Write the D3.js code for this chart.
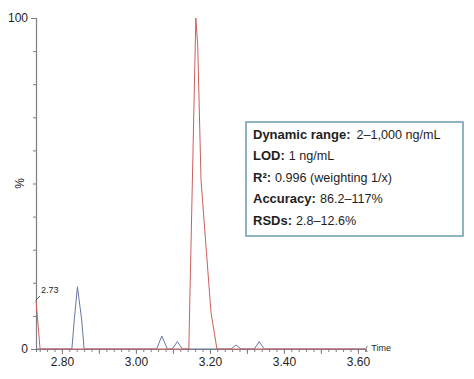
<!DOCTYPE html>
<html>
<head>
<meta charset="utf-8">
<script src="https://cdn.jsdelivr.net/npm/d3@7"></script>
<style>
  body { margin: 0; background: #fff; }
  svg { display: block; font-family: "Liberation Sans", Arial, sans-serif; }
</style>
</head>
<body>
<svg class="main" width="474" height="379"></svg>
<script>
// chromatogram traces (time in min, intensity in %)
var redTime = [2.730, 2.741, 3.143, 3.162, 3.167, 3.176, 3.203, 3.219, 3.620];
var redPct  = [14.8,  0,     0,     100,   92,    51,    11,    0,     0];

var blueTime = [2.730, 2.827, 2.8335, 2.842, 2.8535, 2.860, 3.056, 3.070, 3.085,
                3.098, 3.112, 3.126, 3.257, 3.271, 3.284, 3.320, 3.333, 3.347, 3.620];
var bluePct  = [0,     0,     8.8,    18.8,  8.8,    0,     0,     3.9,   0,
                0,     2.2,   0,     0,     1.2,   0,     0,     2.2,   0,     0];

var xLabels = [2.80, 3.00, 3.20, 3.40, 3.60];
var yLabels = [0, 100];
var peakLabel = '2.73';

var infoLabels = ['Dynamic range:', 'LOD:', 'R\u00B2:', 'Accuracy:', 'RSDs:'];
var infoValues = ['2\u20131,000 ng/mL', '1 ng/mL', '0.996 (weighting 1/x)', '86.2\u2013117%', '2.8\u201312.6%'];

var redStroke = '#c9605c',
    blueStroke = '#6877a3',
    axisStroke = '#808080',
    textFill = '#1e1e1e',
    boxStroke = '#6b9bab';

var svg = d3.select('.main');

var x = d3.scaleLinear()
    .domain([2.73, 3.62])
    .range([36, 365.3]);

var y = d3.scaleLinear()
    .domain([0, 100])
    .range([349, 18]);

// y axis: minor ticks every 10 %, labels only at 0 and 100
var yMinor = d3.axisLeft(y)
    .tickValues(d3.range(0, 101, 10))
    .tickSize(3)
    .tickFormat('');

var gyMinor = svg.append('g')
    .attr('transform', 'translate(' + x.range()[0] + ',0)')
    .call(yMinor);

var yMajor = d3.axisLeft(y)
    .tickValues(yLabels)
    .tickSize(5)
    .tickPadding(3)
    .tickFormat(d3.format('d'));

var gyMajor = svg.append('g')
    .attr('transform', 'translate(' + x.range()[0] + ',0)')
    .call(yMajor);
gyMajor.select('.domain').remove();

// x axis: minor every 0.02, medium every 0.1, labels every 0.2
var xMinor = d3.axisBottom(x)
    .tickValues(d3.range(2.74, 3.621, 0.02))
    .tickSize(3)
    .tickFormat('');

var gxMinor = svg.append('g')
    .attr('transform', 'translate(0,' + y(0) + ')')
    .call(xMinor);

var xMid = d3.axisBottom(x)
    .tickValues(d3.range(2.8, 3.61, 0.1))
    .tickSize(5)
    .tickFormat('');

var gxMid = svg.append('g')
    .attr('transform', 'translate(0,' + y(0) + ')')
    .call(xMid);
gxMid.select('.domain').remove();

var xMajor = d3.axisBottom(x)
    .tickValues(xLabels)
    .tickSize(0)
    .tickPadding(8)
    .tickFormat(d3.format('.2f'));

var gxMajor = svg.append('g')
    .attr('transform', 'translate(0,' + y(0) + ')')
    .call(xMajor);
gxMajor.select('.domain').remove();

svg.selectAll('.domain').attr('stroke', axisStroke).attr('stroke-width', 1.2);
svg.selectAll('.tick line').attr('stroke', axisStroke);
svg.selectAll('.tick text')
    .attr('fill', textFill)
    .style('font-size', '12px')
    .style('font-family', '"Liberation Sans", Arial, sans-serif');

// end bracket on time axis
var xEnd = x.range()[1];
svg.append('path')
    .attr('d', 'M' + (xEnd + 2) + ',' + (y(0) - 3) + ' Q' + (xEnd - 1) + ',' + y(0) + ' ' + (xEnd + 2) + ',' + (y(0) + 3))
    .attr('fill', 'none')
    .attr('stroke', axisStroke);

svg.append('text')
    .attr('x', xEnd + 6)
    .attr('y', y(0) + 2)
    .attr('fill', textFill)
    .style('font-size', '9px')
    .text('Time');

// y axis title
svg.append('text')
    .attr('transform', 'translate(24,' + y(50) + ') rotate(-90)')
    .attr('text-anchor', 'middle')
    .attr('fill', textFill)
    .style('font-size', '12px')
    .text('%');

// traces
var line = d3.line()
    .x(function(d) { return x(d[0]); })
    .y(function(d) { return y(d[1]); });

svg.append('path')
    .datum(d3.zip(blueTime, bluePct))
    .attr('d', line)
    .attr('fill', 'none')
    .attr('stroke', blueStroke)
    .attr('stroke-width', 1);

svg.append('path')
    .datum(d3.zip(redTime, redPct))
    .attr('d', line)
    .attr('fill', 'none')
    .attr('stroke', redStroke)
    .attr('stroke-width', 1);

// peak label with leader
var px = x(redTime[0]), py = y(redPct[0]);
svg.append('line')
    .attr('x1', px).attr('y1', py)
    .attr('x2', px + 4).attr('y2', py - 4)
    .attr('stroke', '#333')
    .attr('stroke-width', 0.8);
svg.append('text')
    .attr('x', px + 5)
    .attr('y', py - 7)
    .attr('fill', textFill)
    .style('font-size', '9px')
    .text(peakLabel);

// info box
var box = svg.append('g').attr('class', 'info');
box.append('rect')
    .attr('x', 246)
    .attr('y', 122)
    .attr('width', 217)
    .attr('height', 114)
    .attr('fill', '#fff')
    .attr('stroke', boxStroke)
    .attr('stroke-width', 1.5);

var rows = box.selectAll('text.row')
    .data(d3.zip(infoLabels, infoValues))
    .enter().append('text')
    .attr('class', 'row')
    .attr('x', 253)
    .attr('y', function(d, i) { return 138.5 + i * 21.6; })
    .attr('fill', textFill)
    .style('font-size', '13px');

rows.append('tspan')
    .style('font-weight', 'bold')
    .text(function(d) { return d[0]; });

rows.append('tspan')
    .attr('dx', function(d, i) { return i == 0 ? 6 : 4; })
    .style('font-size', '12.6px')
    .text(function(d) { return d[1]; });
</script>
</body>
</html>
